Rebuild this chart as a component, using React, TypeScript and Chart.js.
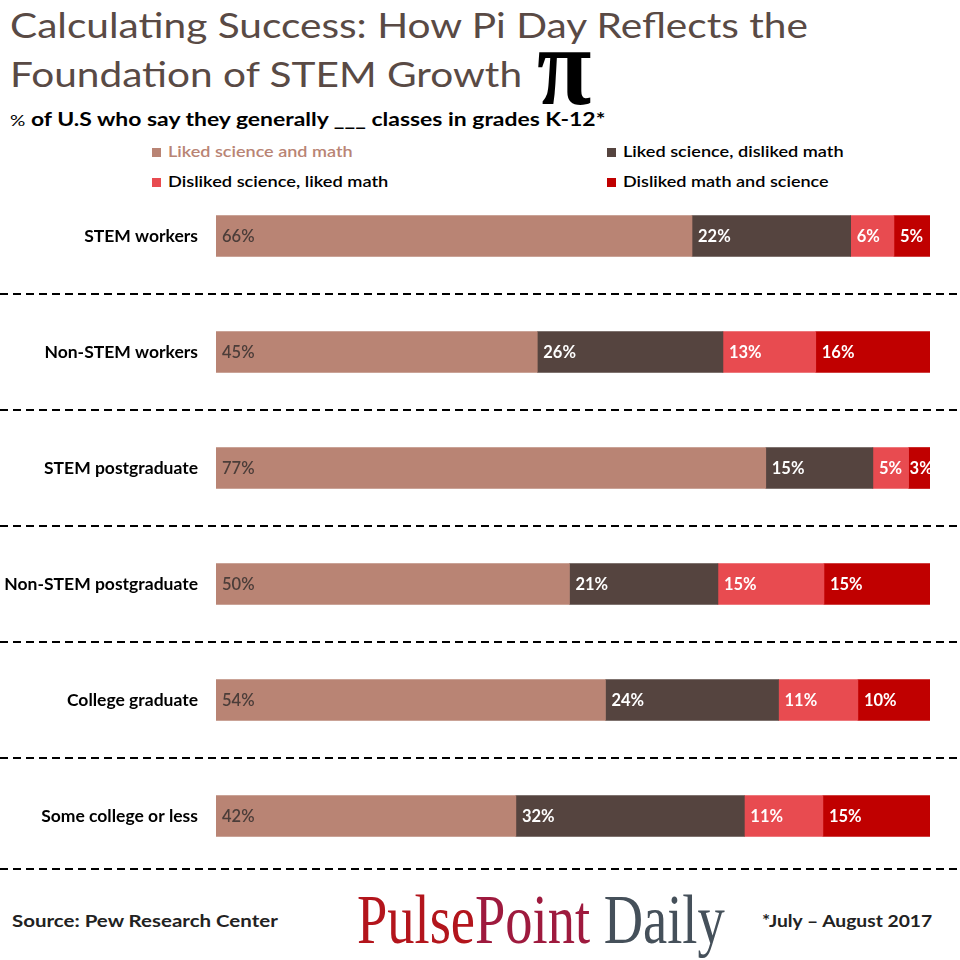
import React, { useEffect, useLayoutEffect, useRef, useState } from "react";
import { Chart, registerables } from "chart.js";

Chart.register(...registerables);

// Survey groups (rows) and the four answer categories (stacked segments)
const groups = [
  "STEM workers",
  "Non-STEM workers",
  "STEM postgraduate",
  "Non-STEM postgraduate",
  "College graduate",
  "Some college or less",
];
const seriesNames = [
  "Liked science and math",
  "Liked science, disliked math",
  "Disliked science, liked math",
  "Disliked math and science",
];
const likedBoth = [66, 45, 77, 50, 54, 42];
const likedScienceOnly = [22, 26, 15, 21, 24, 32];
const likedMathOnly = [6, 13, 5, 15, 11, 11];
const dislikedBoth = [5, 16, 3, 15, 10, 15];

const seriesColors = ["#b98474", "#55443f", "#e84b50", "#c00000"];
const labelColors = ["#4b3d39", "#ffffff", "#ffffff", "#ffffff"];

const SANS = "Lato, 'Open Sans', sans-serif";

type FitProps = {
  x: number;
  top: number;
  width: number;
  size: number;
  weight?: number | string;
  color?: string;
  family?: string;
  children: React.ReactNode;
};

// Text span squeezed/stretched horizontally to a fixed width
function FitText({ x, top, width, size, weight = 400, color = "#000", family = SANS, children }: FitProps) {
  const ref = useRef<HTMLSpanElement>(null);
  const [sx, setSx] = useState(1);
  useLayoutEffect(() => {
    const fit = () => {
      const el = ref.current;
      if (el && el.offsetWidth) setSx(width / el.offsetWidth);
    };
    fit();
    if ((document as any).fonts) (document as any).fonts.ready.then(fit);
  }, [width]);
  return (
    <span
      ref={ref}
      style={{
        position: "absolute",
        left: x,
        top,
        fontFamily: family,
        fontSize: size,
        fontWeight: weight as any,
        color,
        lineHeight: 1,
        whiteSpace: "nowrap",
        transform: `scaleX(${sx})`,
        transformOrigin: "0 0",
      }}
    >
      {children}
    </span>
  );
}

// Dashed separators under each row, running across the full width
const separatorPlugin = {
  id: "rowSeparators",
  afterDraw(chart: any) {
    const y = chart.scales.y;
    const n = chart.data.labels.length;
    const half = (y.getPixelForValue(1) - y.getPixelForValue(0)) / 2;
    const ctx = chart.ctx;
    ctx.save();
    ctx.strokeStyle = "#000";
    ctx.lineWidth = 2;
    ctx.setLineDash([8, 5]);
    for (let i = 0; i < n; i++) {
      const py = Math.round(y.getPixelForValue(i) + half) - (i === n - 1 ? 5 : 0);
      ctx.beginPath();
      ctx.moveTo(0, py);
      ctx.lineTo(chart.width, py);
      ctx.stroke();
    }
    ctx.restore();
  },
};

// Percentage labels at the left edge of each segment
const segmentLabelPlugin = {
  id: "segmentLabels",
  afterDatasetsDraw(chart: any) {
    const ctx = chart.ctx;
    ctx.save();
    ctx.textBaseline = "middle";
    ctx.textAlign = "left";
    chart.data.datasets.forEach((ds: any, k: number) => {
      const meta = chart.getDatasetMeta(k);
      meta.data.forEach((bar: any, i: number) => {
        const left = Math.min(bar.x, bar.base);
        const segW = Math.abs(bar.x - bar.base);
        const text = `${ds.values[i]}%`;
        ctx.fillStyle = labelColors[k];
        ctx.font = `${k === 0 ? 600 : 700} 16.5px ${SANS}`;
        const tw = ctx.measureText(text).width;
        const pad = segW < tw + 10 ? Math.max(1, (segW - tw) / 2) : 6;
        ctx.fillText(text, left + pad, bar.y + 1);
      });
    });
    ctx.restore();
  },
};

function BarChart() {
  const canvasRef = useRef<HTMLCanvasElement>(null);
  useEffect(() => {
    const series = [likedBoth, likedScienceOnly, likedMathOnly, dislikedBoth];
    const totals = groups.map((_, i) => series.reduce((s, arr) => s + arr[i], 0));
    const chart = new Chart(canvasRef.current!, {
      type: "bar",
      data: {
        labels: groups,
        datasets: series.map((vals, k) => ({
          label: seriesNames[k],
          data: vals.map((v, i) => (v / totals[i]) * 100),
          values: vals,
          backgroundColor: seriesColors[k],
          borderWidth: 0,
          barThickness: 41,
        })) as any,
      },
      options: {
        indexAxis: "y",
        responsive: false,
        maintainAspectRatio: false,
        animation: false,
        layout: { padding: { left: 0, right: 30, top: 0, bottom: 4 } },
        plugins: { legend: { display: false }, tooltip: { enabled: false }, title: { display: false } },
        scales: {
          x: { stacked: true, min: 0, max: 100, display: false },
          y: {
            stacked: true,
            grid: { display: false, drawTicks: false },
            border: { display: false },
            ticks: { color: "#000", padding: 18, font: { family: SANS, weight: "bold", size: 17.5 } },
            afterFit(scale: any) {
              scale.width = 216;
              scale.paddingTop = 0;
              scale.paddingBottom = 0;
            },
          },
        },
      } as any,
      plugins: [separatorPlugin, segmentLabelPlugin],
    });
    return () => chart.destroy();
  }, []);
  return (
    <canvas
      ref={canvasRef}
      width={960}
      height={700}
      style={{ position: "absolute", left: 0, top: 178, width: 960, height: 700, display: "block" }}
    />
  );
}

function LegendItem({ x, y, color, textColor, width, label }: any) {
  return (
    <>
      <div style={{ position: "absolute", left: x, top: y - 4, width: 9, height: 9, background: color }} />
      <FitText x={x + 16} top={y - 8} width={width} size={15.5} weight={600} color={textColor}>
        {label}
      </FitText>
    </>
  );
}

export default function App() {
  return (
    <div
      style={{
        position: "absolute",
        left: 0,
        top: 0,
        width: 960,
        height: 960,
        background: "#fff",
        overflow: "hidden",
        fontFamily: SANS,
      }}
    >
      <FitText x={10} top={8} width={798} size={34} color="#594a45">
        Calculating Success: How Pi Day Reflects the
      </FitText>
      <FitText x={10} top={57} width={512} size={34} color="#594a45">
        Foundation of STEM Growth
      </FitText>
      <FitText x={537} top={10} width={54} size={112} weight={700} family="'Liberation Serif', serif">
        π
      </FitText>
      <FitText x={10} top={110} width={595} size={18} weight={700}>
        <span style={{ fontWeight: 400, fontSize: 15 }}>%</span> of U.S who say they generally ___ classes in grades K-12*
      </FitText>

      <LegendItem x={152} y={152} color={seriesColors[0]} textColor={seriesColors[0]} width={185} label={seriesNames[0]} />
      <LegendItem x={607} y={152} color={seriesColors[1]} textColor="#000" width={221} label={seriesNames[1]} />
      <LegendItem x={152} y={182} color={seriesColors[2]} textColor="#000" width={220} label={seriesNames[2]} />
      <LegendItem x={607} y={182} color={seriesColors[3]} textColor="#000" width={206} label={seriesNames[3]} />

      <BarChart />

      <FitText x={12} top={912} width={266} size={17} weight={700} color="#222">
        Source: Pew Research Center
      </FitText>
      <FitText x={357} top={885} width={368} size={70} family="'Liberation Serif', serif">
        <span style={{ color: "#b3151c" }}>Pulse</span>
        <span style={{ color: "#9e1a3e" }}>Point</span>
        <span style={{ color: "#45505a" }}> Daily</span>
      </FitText>
      <FitText x={762} top={912} width={170} size={17} weight={700} color="#222">
        *July – August 2017
      </FitText>
    </div>
  );
}
